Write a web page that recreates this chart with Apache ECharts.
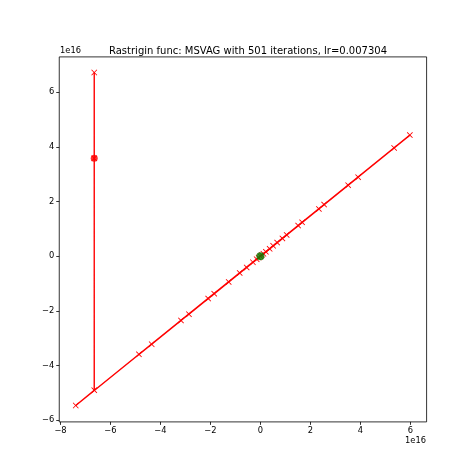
<!DOCTYPE html>
<html>
<head>
<meta charset="utf-8">
<script src="https://cdn.jsdelivr.net/npm/echarts@6/dist/echarts.min.js"></script>
<style>html,body{margin:0;padding:0;background:#fff}#c{width:474px;height:474px}</style>
</head>
<body>
<div id="c"></div>
<script>
// values in units of 1e16
const pathX = [-6.65, -6.65, -6.65, -7.39, 5.98, -4.86, 5.35, -4.35, 3.91, -3.18, 3.51, -2.86, 2.55, -2.09, 2.34, -1.85, 1.67, -1.27, 1.51, -0.83, 1.05, -0.55, 0.88, -0.30, 0.67, -0.15, 0.51, -0.07, 0.37, 0.22, 0.12, 0.05, 0.0];
const pathY = [3.58, 6.72, -4.90, -5.46, 4.43, -3.59, 3.96, -3.22, 2.89, -2.35, 2.60, -2.12, 1.89, -1.55, 1.73, -1.37, 1.24, -0.94, 1.12, -0.61, 0.78, -0.41, 0.65, -0.22, 0.50, -0.11, 0.38, -0.05, 0.27, 0.16, 0.09, 0.04, 0.0];
const startPoint = [-6.65, 3.58];
const endPoint = [0.0, 0.0];
const xTicks = [-8, -6, -4, -2, 0, 2, 4, 6];
const yTicks = [-6, -4, -2, 0, 2, 4, 6];
const titleText = 'Rastrigin func: MSVAG with 501 iterations, lr=0.007304';
const offsetText = '1e16';

const pathData = pathX.map((x, i) => [x, pathY[i]]);
const fmt = v => (v < 0 ? '\u2212' + Math.abs(v) : String(v));
const FONT = 'DejaVu Sans';
const crossPath = 'path://M0,1L1,0L5,4L9,0L10,1L6,5L10,9L9,10L5,6L1,10L0,9L4,5Z';

const chart = echarts.init(document.getElementById('c'), null, {renderer: 'canvas'});
chart.setOption({
  animation: false,
  backgroundColor: '#fff',
  title: {
    text: titleText, left: 243, top: 41, textAlign: 'center',
    textStyle: {fontFamily: FONT, fontSize: 10, fontWeight: 'normal', color: '#000'}
  },
  grid: {left: 59.25, right: 47.4, top: 56.9, bottom: 52.1, show: true, borderColor: '#000', borderWidth: 0.8, backgroundColor: 'transparent'},
  xAxis: {
    type: 'value', min: -8.05, max: 6.65,
    splitLine: {show: false}, axisLine: {show: false, onZero: false},
    axisTick: {show: true, inside: false, length: 3, customValues: xTicks, lineStyle: {color: '#000', width: 0.8}},
    axisLabel: {customValues: xTicks, formatter: fmt, fontFamily: FONT, fontSize: 8.3, color: '#000', margin: 5}
  },
  yAxis: {
    type: 'value', min: -6.06, max: 7.29,
    splitLine: {show: false}, axisLine: {show: false, onZero: false},
    axisTick: {show: true, inside: false, length: 3, customValues: yTicks, lineStyle: {color: '#000', width: 0.8}},
    axisLabel: {customValues: yTicks, formatter: fmt, fontFamily: FONT, fontSize: 8.3, color: '#000', margin: 5}
  },
  graphic: [
    {type: 'text', left: 60, top: 47, style: {text: offsetText, font: '8.3px "DejaVu Sans"', fill: '#000'}},
    {type: 'text', right: 48, top: 437, style: {text: offsetText, font: '8.3px "DejaVu Sans"', fill: '#000'}}
  ],
  series: [
    {
      type: 'line', data: pathData, showSymbol: true, symbol: crossPath, symbolSize: 6,
      itemStyle: {color: '#ff0000'}, lineStyle: {color: '#ff0000', width: 1.4},
      z: 2, clip: false
    },
    {type: 'scatter', data: [startPoint], symbol: 'circle', symbolSize: 7, itemStyle: {color: '#ff0000'}, z: 3},
    {type: 'scatter', data: [endPoint], symbol: 'circle', symbolSize: 8, itemStyle: {color: '#008000'}, z: 4}
  ]
});
</script>
</body>
</html>
